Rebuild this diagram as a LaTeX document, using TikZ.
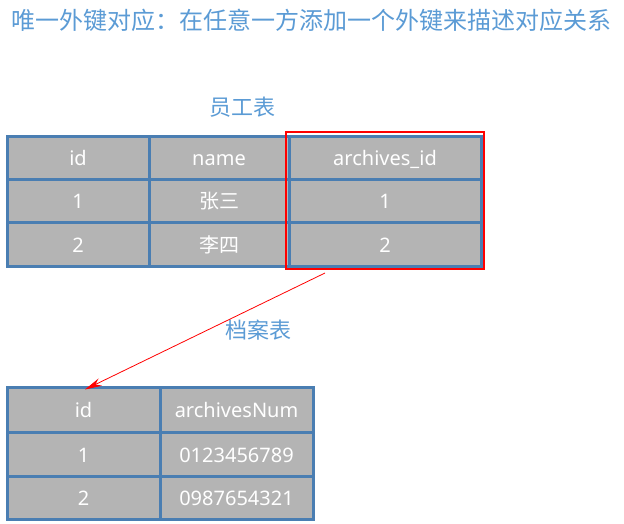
\documentclass[tikz,border=0pt]{standalone}
\usepackage{fontspec}
\setmainfont{Noto Sans}
\newfontfamily\cjk{Noto Sans CJK SC}
\usetikzlibrary{arrows.meta}
\definecolor{labelblue}{RGB}{91,155,213}
\definecolor{cellline}{RGB}{74,126,178}
\definecolor{cellgray}{RGB}{180,180,180}
\tikzset{
  cell/.style={draw=cellline, line width=3pt, fill=cellgray, text=white,
    inner sep=0pt, text height=19pt, text depth=3pt, font=\fontsize{20}{24}\selectfont},
  tablename/.style={text=labelblue, font=\cjk\fontsize{22}{26}\selectfont}
}
\begin{document}
\begin{tikzpicture}[x=1pt,y=-1pt]
  \fill[white] (0,0) rectangle (624,523);
  \useasboundingbox (0,0) rectangle (624,523);
  \node[anchor=west, text=labelblue, font=\cjk\fontsize{24}{28}\selectfont, inner sep=0pt] (title) at (11,20) {唯一外键对应：在任意一方添加一个外键来描述对应关系};

  % employee table
  \node[tablename] (emplabel) at (242,107) {员工表};
  \begin{scope}[every node/.append style={cell, minimum height=43pt}]
    \node[minimum width=142pt] (eid) at (78,157.5) {id};
    \node[minimum width=140pt] (ename) at (219,157.5) {name};
    \node[minimum width=192pt] (earch) at (385,157.5) {archives\_id};
    \node[minimum width=142pt] (eid1) at (78,200.5) {1};
    \node[minimum width=140pt] (ename1) at (219,200.5) {\cjk 张三};
    \node[minimum width=192pt] (earch1) at (385,200.5) {1};
    \node[minimum width=142pt, minimum height=44pt] (eid2) at (78,244) {2};
    \node[minimum width=140pt, minimum height=44pt] (ename2) at (219,244) {\cjk 李四};
    \node[minimum width=192pt, minimum height=44pt] (earch2) at (385,244) {2};
  \end{scope}
  \node[draw=red, line width=2pt, inner sep=0pt, minimum width=198pt, minimum height=137pt] (keybox) at (385,200.5) {};

  % archives table
  \node[tablename] (archlabel) at (258,330) {档案表};
  \begin{scope}[every node/.append style={cell, minimum width=153pt}]
    \node[minimum height=45pt] (aid) at (83.5,409.5) {id};
    \node[minimum height=45pt] (anum) at (236.5,409.5) {archivesNum};
    \node[minimum height=44pt] (aid1) at (83.5,454) {1};
    \node[minimum height=44pt] (anum1) at (236.5,454) {0123456789};
    \node[minimum height=43pt] (aid2) at (83.5,497.5) {2};
    \node[minimum height=43pt] (anum2) at (236.5,497.5) {0987654321};
  \end{scope}

  \coordinate (fk) at (325,273);
  \draw[red, line width=0.8pt, -{Stealth[length=17pt, width=8pt]}] (fk) -- ([xshift=1.5pt, yshift=-4pt]aid.north);
\end{tikzpicture}
\end{document}
